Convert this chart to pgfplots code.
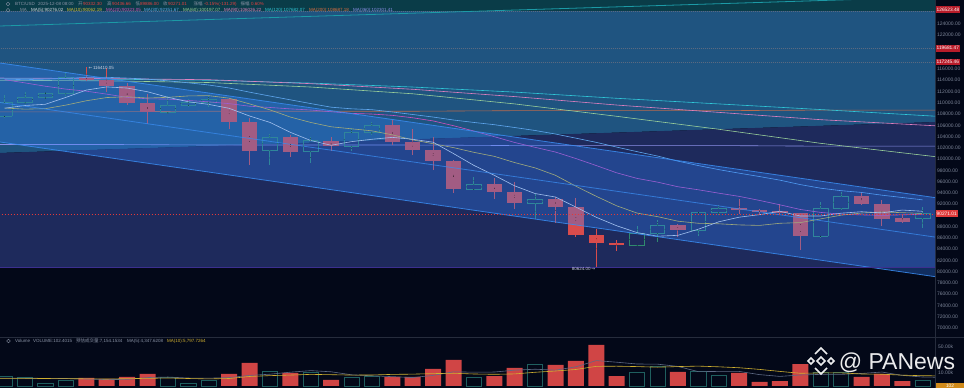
\documentclass[border=0pt]{standalone}
\usepackage{pgfplots}
\pgfplotsset{compat=1.18}
\usepackage{pgfplotstable}
\usepackage{fontspec}
\setmainfont{Liberation Sans}
\newfontfamily\cjk{Noto Sans CJK SC}
\newfontfamily\dv{DejaVu Sans}
\newcommand{\fs}[1]{\fontsize{#1}{#1}\selectfont}

\definecolor{bgk}{HTML}{030818}
\definecolor{topteal}{HTML}{0A3C48}
\definecolor{steel}{HTML}{1F5480}
\definecolor{navy}{HTML}{1E2A5C}
\definecolor{chan}{RGB}{47,128,250}
\definecolor{chanline}{HTML}{3A8CF0}
\definecolor{cred}{HTML}{D94C4C}
\definecolor{cgreen}{HTML}{2F8A6E}
\definecolor{vred}{HTML}{D04545}
\definecolor{vteal}{HTML}{1F5F5F}
\definecolor{ma5}{HTML}{D8DEE8}
\definecolor{ma10}{HTML}{D8C040}
\definecolor{ma20}{HTML}{D050C0}
\definecolor{ma30}{HTML}{60A8F0}
\definecolor{ma60}{HTML}{9AD09A}
\definecolor{ma90}{HTML}{E080C0}
\definecolor{ma120}{HTML}{30C8D8}
\definecolor{ma200}{HTML}{E07040}
\definecolor{ma360}{HTML}{8C90E8}
\definecolor{lblgray}{HTML}{7C8598}
\definecolor{hgray}{HTML}{8A93A6}
\definecolor{hred}{HTML}{E04040}
\definecolor{boxred}{HTML}{B81C2A}
\definecolor{curred}{HTML}{E23A3A}
\definecolor{axisline}{HTML}{262C3C}
\definecolor{volyellow}{HTML}{D0B030}
\definecolor{volgray}{HTML}{5E6A85}
\definecolor{orangebox}{HTML}{D08A1A}
\definecolor{dotgray}{HTML}{5A6A80}
\definecolor{trend}{HTML}{1C9AA6}
\definecolor{lowline}{HTML}{3C2F8F}
\definecolor{mark}{HTML}{C8D0E0}

\pgfplotsset{
  nomark/.style={only marks, mark=*, mark size=0.01pt, mark options={draw=none, fill=none}},
}

% prices in thousands of USD
\pgfplotstableread{
i o h l c
4 114.5 116.4 113.8 114.1
5 114.1 116.1 112.0 112.9
6 112.9 113.6 109.6 110.0
7 110.0 111.6 106.3 108.3
11 110.6 110.8 105.3 106.5
12 106.5 107.3 98.9 101.5
14 103.9 104.2 100.3 101.3
16 103.3 103.9 101.4 102.3
19 106.0 107.0 102.5 103.0
20 103.0 105.3 100.8 101.6
21 101.6 104.0 98.0 99.7
22 99.7 99.9 94.0 94.6
24 95.5 96.6 93.0 94.2
25 94.2 96.0 91.2 92.2
27 92.9 93.2 88.6 91.5
28 91.5 93.1 86.1 86.6
29 86.6 87.5 80.6 85.1
30 85.1 85.6 83.6 84.7
33 88.3 88.5 86.2 87.4
36 91.3 93.0 90.2 90.9
37 90.9 91.2 90.3 90.65
38 90.8 92.0 90.3 90.4
39 90.4 90.5 83.8 86.3
42 93.4 94.1 91.8 92.1
43 92.1 92.7 88.1 89.4
44 89.5 90.3 88.6 88.9
}\fall
\pgfplotstableread{
i o h l c
0 107.6 111.3 107.5 110.1
1 110.1 112.0 109.7 111.0
2 111.0 111.9 110.6 111.6
3 111.6 115.4 111.2 114.5
8 108.3 111.2 108.0 109.6
9 109.6 110.6 109.4 110.1
10 110.1 111.2 109.2 110.6
13 101.5 104.5 98.9 103.9
15 101.3 104.0 99.3 103.3
17 102.3 105.5 101.5 104.7
18 104.7 106.6 104.3 106.0
23 94.6 96.8 94.6 95.5
26 92.2 93.8 89.3 92.9
31 84.7 88.1 84.7 86.8
32 86.8 89.2 85.3 88.3
34 87.4 90.6 86.3 90.5
35 90.5 91.9 90.1 91.3
40 86.3 92.3 86.2 91.3
41 91.3 94.1 91.0 93.4
45 89.5 91.5 87.8 90.3
}\rise
\pgfplotstableread{
i m5 m10 m20 m30
0 109.04 109.07 114.10 114.19
1 109.52 108.87 113.53 114.11
2 109.74 108.96 112.94 114.20
3 110.96 109.59 112.43 114.36
4 112.26 110.36 112.06 114.51
5 112.82 110.93 111.54 114.53
6 112.62 111.07 110.96 114.39
7 111.96 110.85 110.71 114.20
8 110.98 110.97 110.66 113.90
9 110.18 111.22 110.41 113.55
10 109.72 111.27 110.17 113.16
11 109.02 110.82 109.85 112.63
12 107.66 109.81 109.39 111.89
13 106.52 108.75 109.17 111.20
14 104.76 107.47 108.92 110.53
15 103.30 106.51 108.72 109.86
16 102.46 105.74 108.41 109.22
17 103.10 105.38 108.12 108.93
18 103.52 105.02 108.00 108.78
19 103.86 104.31 107.77 108.37
20 103.52 103.41 107.34 107.92
21 103.00 102.73 106.78 107.47
22 100.98 102.04 105.93 106.94
23 98.88 101.20 104.98 106.51
24 97.12 100.49 103.98 106.11
25 95.24 99.38 102.95 105.61
26 93.88 98.44 102.09 105.08
27 93.26 97.12 101.25 104.45
28 91.48 95.18 100.10 103.72
29 89.66 93.39 98.85 102.97
30 88.16 91.70 97.56 102.13
31 86.94 90.41 96.57 101.32
32 86.30 89.78 95.91 100.54
33 86.46 88.97 95.09 99.64
34 87.54 88.60 94.55 98.85
35 88.86 88.51 93.95 98.13
36 89.68 88.31 93.38 97.50
37 90.13 88.22 92.66 96.90
38 90.73 88.60 91.88 96.26
39 89.89 88.72 91.05 95.47
40 89.89 89.38 90.53 94.83
41 90.39 90.04 90.22 94.39
42 90.65 90.42 90.09 94.08
43 90.45 90.62 90.00 93.59
44 90.95 90.48 90.10 93.18
45 90.73 90.36 90.20 92.76
}\mashort
\pgfplotstableread{
i m60 m90 m120 m200 m360
-0.3 114.0 114.4 114.3 108.4 102.6
5 113.9 114.3 114.2 108.4 102.6
10 113.6 114.1 114.0 108.5 102.5
15 112.8 113.4 113.5 108.5 102.5
20 111.6 112.4 112.8 108.5 102.5
25 109.8 111.1 111.9 108.6 102.4
30 107.6 109.6 110.8 108.6 102.4
35 105.3 108.3 109.8 108.6 102.4
40 102.8 107.0 108.8 108.7 102.3
45.7 100.4 105.9 107.6 108.7 102.3
}\malong
% volume in thousands
\pgfplotstableread{
i v
4 5.2
5 4.5
6 5.8
7 7.7
11 7.7
12 14.8
14 8.4
16 3.9
19 5.8
20 5.8
21 10.9
22 16.7
24 6.4
25 11.6
27 13.5
28 16.1
29 26.3
30 6.4
33 9.0
36 8.4
37 2.6
38 3.2
39 14.1
42 5.8
43 7.7
44 3.2
}\vfall
\pgfplotstableread{
i v
0 6.4
1 5.2
2 1.9
3 3.9
8 5.8
9 1.9
10 3.9
13 9.6
15 9.0
17 5.2
18 6.4
23 5.2
26 14.1
31 8.4
32 12.8
34 9.6
35 7.1
40 9.0
41 8.4
45 3.9
}\vrise
\pgfplotstableread{
i m5 m10
-0.3 5.0 4.9
0 5.0 4.9
1 5.0 4.9
2 4.9 4.8
3 4.8 4.7
4 4.5 4.6
5 4.1 4.5
6 4.25 4.7
7 5.4 4.9
8 5.75 5.1
9 5.1 4.8
10 5.0 4.55
11 5.4 4.8
12 6.8 6.1
13 7.55 6.65
14 8.85 7.0
15 9.85 7.45
16 9.1 7.25
17 7.2 7.0
18 6.55 7.05
19 6.0 7.45
20 5.4 7.6
21 6.8 7.95
22 9.1 8.15
23 8.85 7.7
24 8.95 7.5
25 10.15 7.75
26 10.75 8.8
27 10.15 9.6
28 12.3 10.6
29 16.3 12.6
30 15.25 12.7
31 14.1 12.45
32 14.0 12.05
33 12.55 12.45
34 9.2 12.75
35 9.35 12.3
36 9.35 11.7
37 7.3 10.65
38 6.15 9.35
39 7.05 8.15
40 7.45 8.4
41 7.45 8.4
42 8.05 7.7
43 8.95 7.55
44 6.8 6.95
45 5.75 6.6
45.7 5.6 6.5
}\vma

\begin{document}
\begin{tikzpicture}[x=1pt,y=1pt]
\useasboundingbox (0,0) rectangle (964,388);
\fill[bgk] (0,0) rectangle (964,388);

\begin{axis}[
  at={(0pt,51pt)}, anchor=south west,
  width=935pt, height=337pt, scale only axis,
  xmin=-0.2304, xmax=45.603, ymin=68.401, ymax=128.259,
  axis x line=none, axis y line*=right,
  axis line style={draw=axisline, line width=0.6pt},
  ytick={70,72,74,76,78,80,82,84,86,88,92,94,96,98,100,102,104,106,108,110,112,114,116,122,124},
  yticklabels={70000.00,72000.00,74000.00,76000.00,78000.00,80000.00,82000.00,84000.00,86000.00,88000.00,92000.00,94000.00,96000.00,98000.00,100000.00,102000.00,104000.00,106000.00,108000.00,110000.00,112000.00,114000.00,116000.00,122000.00,124000.00},
  yticklabel style={font=\fs{5}, text=lblgray, xshift=-1.5pt},
  major tick length=0pt,
  clip=true,
]
% background zones
\addplot[draw=none, fill=topteal] coordinates {(-0.3,126.3) (45.7,126.3) (45.7,128.3) (-0.3,128.3)};
\addplot[draw=none, fill=steel] coordinates {(-0.3,126.3) (45.7,126.3) (45.7,106.59) (-0.3,101.08)};
\addplot[draw=none, fill=navy] coordinates {(-0.3,101.08) (45.7,106.59) (45.7,80.75) (-0.3,80.75)};
% horizontal levels
\addplot[dotgray, line width=0.4pt, dash pattern=on 0.8pt off 1.2pt] coordinates {(-0.3,126.3) (45.7,126.3)};
\addplot[dotgray, line width=0.4pt, dash pattern=on 0.8pt off 1.2pt] coordinates {(-0.3,119.68147) (45.7,119.68147)};
\addplot[dotgray, line width=0.4pt, dash pattern=on 0.8pt off 1.2pt] coordinates {(-0.3,117.24546) (45.7,117.24546)};
\addplot[trend, line width=0.8pt] coordinates {(-0.2304,123.641) (45.7,128.8)};
% long moving averages
\addplot[ma360, line width=0.6pt] table[x=i,y=m360] {\malong};
\addplot[ma200, line width=0.6pt, opacity=0.8] table[x=i,y=m200] {\malong};
\addplot[ma120, line width=0.6pt] table[x=i,y=m120] {\malong};
\addplot[ma90, line width=0.6pt] table[x=i,y=m90] {\malong};
\addplot[ma60, line width=0.6pt] table[x=i,y=m60] {\malong};
% falling candles
\addplot[nomark, error bars/.cd, y dir=both, y explicit, error mark=none,
  error bar style={draw=cred, line width=1pt}]
  table[x=i, y expr={(\thisrow{h}+\thisrow{l})/2}, y error expr={(\thisrow{h}-\thisrow{l})/2}] {\fall};
\addplot[nomark, error bars/.cd, y dir=both, y explicit, error mark=none,
  error bar style={draw=cred, line width=15.5pt}]
  table[x=i, y expr={(\thisrow{o}+\thisrow{c})/2}, y error expr={(\thisrow{o}-\thisrow{c})/2}] {\fall};
% rising (hollow) candles
\addplot[nomark, error bars/.cd, y dir=both, y explicit, error mark=none,
  error bar style={draw=cgreen, line width=1pt}]
  table[x=i, y expr={(\thisrow{h}+\thisrow{c})/2}, y error expr={(\thisrow{h}-\thisrow{c})/2}] {\rise};
\addplot[nomark, error bars/.cd, y dir=both, y explicit, error mark=none,
  error bar style={draw=cgreen, line width=1pt}]
  table[x=i, y expr={(\thisrow{o}+\thisrow{l})/2}, y error expr={(\thisrow{o}-\thisrow{l})/2}] {\rise};
\addplot[nomark, error bars/.cd, y dir=both, y explicit, error mark=none,
  error bar style={draw=cgreen, line width=0.9pt}]
  table[x expr={\thisrow{i}-0.36}, y expr={(\thisrow{o}+\thisrow{c})/2}, y error expr={(\thisrow{c}-\thisrow{o})/2}] {\rise};
\addplot[nomark, error bars/.cd, y dir=both, y explicit, error mark=none,
  error bar style={draw=cgreen, line width=0.9pt}]
  table[x expr={\thisrow{i}+0.36}, y expr={(\thisrow{o}+\thisrow{c})/2}, y error expr={(\thisrow{c}-\thisrow{o})/2}] {\rise};
\addplot[nomark, error bars/.cd, x dir=both, x explicit, error mark=none,
  error bar style={draw=cgreen, line width=0.9pt}]
  table[x=i, y=c, x error expr={0.382}] {\rise};
\addplot[nomark, error bars/.cd, x dir=both, x explicit, error mark=none,
  error bar style={draw=cgreen, line width=0.9pt}]
  table[x=i, y=o, x error expr={0.382}] {\rise};
% short moving averages
\addplot[ma30, line width=0.6pt] table[x=i,y=m30] {\mashort};
\addplot[ma20, line width=0.6pt] table[x=i,y=m20] {\mashort};
\addplot[ma10, line width=0.6pt] table[x=i,y=m10] {\mashort};
\addplot[ma5, line width=0.6pt] table[x=i,y=m5] {\mashort};
% descending channel (overlay)
\addplot[draw=none, fill=chan, fill opacity=0.32] coordinates {(-0.2304,117.07) (45.603,93.16) (45.603,79.12) (-0.2304,103.04)};
\addplot[chanline, line width=0.8pt, opacity=0.85] coordinates {(-0.2304,117.07) (45.603,93.16)};
\addplot[chanline, line width=0.8pt, opacity=0.75] coordinates {(-0.2304,110.05) (45.603,86.15)};
\addplot[chanline, line width=0.8pt, opacity=0.85] coordinates {(-0.2304,103.04) (45.603,79.12)};
% low level and current price
\addplot[lowline, line width=0.8pt] coordinates {(-0.3,80.75) (45.7,80.75)};
\addplot[curred, line width=0.5pt, dash pattern=on 1.5pt off 1.5pt] coordinates {(-0.3,90.27101) (45.7,90.27101)};
\node[anchor=west, inner sep=0, text=mark, font=\fs{4.5}] at (axis cs:4.1,116.2) {{\dv ←}\,116410.05};
\node[anchor=east, inner sep=0, text=mark, font=\fs{4.5}] at (axis cs:28.95,80.45) {80624.00\,{\dv →}};
\coordinate (p1) at (axis cs:45.603,126.52348);
\coordinate (p2) at (axis cs:45.603,119.68147);
\coordinate (p3) at (axis cs:45.603,117.24546);
\coordinate (p4) at (axis cs:45.603,90.27101);
\end{axis}

% volume pane
\begin{axis}[
  at={(0pt,0pt)}, anchor=south west,
  width=935pt, height=51pt, scale only axis,
  xmin=-0.2304, xmax=45.603, ymin=-1.282, ymax=31.41,
  axis x line=none, axis y line*=right,
  axis line style={draw=axisline, line width=0.6pt},
  ytick=\empty, clip=true,
]
\addplot[ybar, bar width=16pt, bar shift=0pt, fill=vred, draw=none] table[x=i,y=v] {\vfall};
\addplot[ybar, bar width=15.2pt, bar shift=0pt, fill=none, draw=vteal, line width=0.8pt] table[x=i,y=v] {\vrise};
\addplot[volgray, line width=0.6pt] table[x=i,y=m5] {\vma};
\addplot[volyellow, line width=0.6pt] table[x=i,y=m10] {\vma};
\end{axis}

\draw[axisline, line width=0.6pt] (0,51) -- (964,51);

% right-axis price boxes
\foreach \p/\t in {p1/126523.48, p2/119681.47, p3/117245.46}{
  \node[anchor=west, fill=boxred, text=white, inner sep=0.9pt, minimum height=6.8pt, font=\fs{4.8}] at ([xshift=0.6pt]\p) {\t};
}
\node[anchor=west, fill=curred, text=white, inner sep=0.9pt, minimum height=6.8pt, font=\fs{4.8}] at ([xshift=0.6pt]p4) {90271.01};
\node[anchor=west, inner sep=0, text=lblgray, font=\fs{5}] at (938,41) {50.00k};
\node[anchor=west, inner sep=0, text=lblgray, font=\fs{5}] at (938,15) {10.00k};
\fill[orangebox] (935.5,0) rectangle (964,5.2);
\node[inner sep=0, text=white, font=\fs{4.8}] at (950,2.6) {102};

% header line 1
\draw[hgray, line width=0.35pt] (8,384) circle (1.8pt);
\begin{scope}[every node/.style={anchor=west, inner sep=0, font=\fs{4.5}}]
\node[text=hgray] at (15,384) {BTC/USD};
\node[text=hgray] at (38,384) {2025-12-08 08:00};
\node[text=hgray] at (78,384) {\cjk 开};
\node[text=hred] at (83,384) {90332.30};
\node[text=hgray] at (107,384) {\cjk 高};
\node[text=hred] at (112,384) {90436.66};
\node[text=hgray] at (135.5,384) {\cjk 低};
\node[text=hred] at (140,384) {89886.00};
\node[text=hgray] at (163,384) {\cjk 收};
\node[text=hred] at (168,384) {90271.01};
\node[text=hgray] at (193.5,384) {\cjk 涨幅};
\node[text=hred] at (204,384) {-0.15\%(-131.29)};
\node[text=hgray] at (240.5,384) {\cjk 振幅};
\node[text=hred] at (251,384) {0.60\%};
% header line 2
\node[text=hgray] at (20,377.7) {MA};
\node[text=ma5] at (31,377.7) {MA(5):90276.02};
\node[text=ma10] at (67,377.7) {MA(10):90062.19};
\node[text=ma20] at (106,377.7) {MA(20):90323.05};
\node[text=ma30] at (144,377.7) {MA(30):92351.67};
\node[text=ma60] at (183,377.7) {MA(60):100197.07};
\node[text=ma90] at (224,377.7) {MA(90):106026.22};
\node[text=ma120] at (265,377.7) {MA(120):107682.07};
\node[text=ma200] at (309,377.7) {MA(200):108687.18};
\node[text=ma360] at (353,377.7) {MA(360):102301.41};
% volume header
\node[text=hgray] at (15,47) {Volume};
\node[text=hgray] at (33,47) {VOLUME:102.4015};
\node[text=hgray] at (76,47) {{\cjk 预估成交量}:7,154.1534};
\node[text=hgray] at (127,47) {MA(5):4,347.6208};
\node[text=volyellow] at (167,47) {MA(10):5,797.7264};
\end{scope}
\draw[hgray, line width=0.35pt] (8,377.7) circle (1.8pt);
\draw[hgray, line width=0.35pt] (8.5,47) circle (1.8pt);

% watermark
\begin{scope}[white, opacity=0.92, line width=1.6pt, line join=miter]
\draw (821,31) -- (825,27) -- (821,23) -- (817,27) -- cycle;
\draw (811,30) -- (814,27) -- (811,24) -- (808,27) -- cycle;
\draw (831,30) -- (834,27) -- (831,24) -- (828,27) -- cycle;
\draw (815,34) -- (821,40) -- (827,34);
\draw (815,20) -- (821,14) -- (827,20);
\node[anchor=base west, inner sep=0, text=white, font=\fs{23}] at (838,18) {@ PANews};
\end{scope}
\end{tikzpicture}
\end{document}
